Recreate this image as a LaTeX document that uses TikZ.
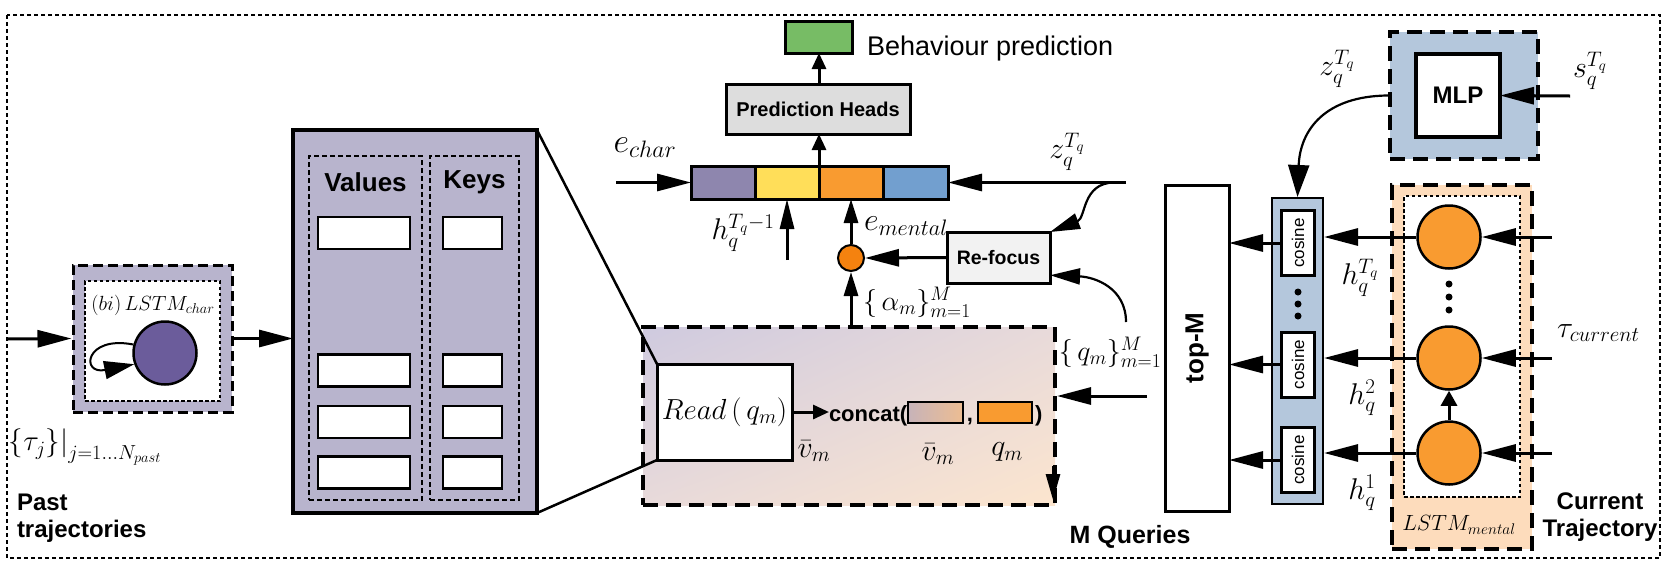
\RequirePackage{fix-cm}
\documentclass[tikz,border=0pt]{standalone}
\usepackage{fontspec}
\setsansfont{Liberation Sans}
\usetikzlibrary{arrows.meta,calc,shadings}
\newcommand{\fsz}[2]{\fontsize{#1}{#2}\selectfont}
\definecolor{lav}{HTML}{B8B4CD}
\definecolor{purp}{HTML}{6B5C9B}
\definecolor{barp}{HTML}{8E86AE}
\definecolor{bary}{HTML}{FFDE59}
\definecolor{baro}{HTML}{F99B30}
\definecolor{barb}{HTML}{729FCF}
\definecolor{lblue}{HTML}{B4C7DC}
\definecolor{peach}{HTML}{FDDCBC}
\definecolor{grn}{HTML}{77BC65}
\definecolor{ocol}{HTML}{F5820F}
\definecolor{qa}{HTML}{CFCADF}
\definecolor{qb}{HTML}{FCE5CE}
\definecolor{qmid}{HTML}{E8DADA}
\definecolor{vga}{HTML}{C7B3B9}
\definecolor{vgb}{HTML}{EDBD92}
\tikzset{
 arr/.style={line width=3pt,-{Triangle[length=34pt,width=17pt]}},
 arrm/.style={line width=3pt,-{Triangle[length=24pt,width=14pt]}},
 arrs/.style={line width=3pt,-{Triangle[length=16pt,width=14pt]}},
 arrc/.style={line width=2.2pt,-{Triangle[length=30pt,width=16pt]}},
 box/.style={draw=black, line width=3pt, inner sep=0pt, outer sep=0pt},
 cell/.style={draw=black, line width=2.5pt, fill=white, minimum height=32pt, inner sep=0pt},
 bigdash/.style={draw=black, line width=4pt, dash pattern=on 15pt off 8pt, inner sep=0pt},
 meddash/.style={draw=black, line width=3pt, dash pattern=on 10pt off 5pt, inner sep=0pt},
 thindash/.style={draw=black, line width=1.3pt, dash pattern=on 5pt off 3pt, inner sep=0pt},
 dotline/.style={draw=black, line width=1.6pt, dash pattern=on 3.5pt off 2.5pt, inner sep=0pt},
 lbl/.style={inner sep=0pt, outer sep=0pt},
 mth/.style={lbl, font=\fsz{30}{33}},
 bsf/.style={lbl, font=\sffamily\bfseries\fsz{#1}{#1}},
 orc/.style={circle, draw=black, line width=2.5pt, fill=baro, minimum size=63pt, inner sep=0pt},
 dotn/.style={circle, fill=black, minimum size=7pt, inner sep=0pt},
}
\begin{document}
\begin{tikzpicture}[x=1pt,y=-1pt]
\useasboundingbox (0,0) rectangle (1665,582);
\draw[line width=2pt, dash pattern=on 4pt off 3pt] (7,15) rectangle (1660,558);

% ---- LSTM char
\node[meddash, fill=lav, minimum width=159pt, minimum height=147pt] (lstmc) at (152.5,338.5) {};
\node[dotline, fill=white, minimum width=135pt, minimum height=120pt] (lstmci) at (152.5,341) {};
\node[lbl, font=\fsz{20.5}{24}] (lchar) at (153,305) {$(bi)\,LSTM_{char}$};
\node[circle, draw=black, line width=2.5pt, fill=purp, minimum size=63pt, inner sep=0pt] (cchar) at (165,353) {};
\draw[line width=2pt, -{Triangle[length=30pt,width=18pt]}] (cchar.165) .. controls (85,335) and (80,375) .. (cchar.200);
\coordinate (inp) at (7,339);
\draw[arr] (inp) -- (lstmc.west);
\node[lbl, anchor=west, font=\fsz{29}{32}] (ltau) at (9,447) {$\{\tau_j\}\big|_{j=1\ldots N_{past}}$};
\node[bsf=24, align=left, anchor=west, font=\sffamily\bfseries\fsz{24}{27}] (lpt) at (17,518) {Past\\trajectories};

% ---- Memory
\node[box, line width=3.5pt, fill=lav, minimum width=244pt, minimum height=383pt] (mem) at (415,321.5) {};
\draw[arr] (lstmc.east) -- (lstmc.east -| mem.west);
\node[thindash, minimum width=113pt, minimum height=344pt] (vcol) at (365.5,328) {};
\node[thindash, minimum width=89pt, minimum height=344pt] (kcol) at (474.5,328) {};
\node[bsf=26] (tval) at (365.5,182) {Values};
\node[bsf=26] (tkey) at (474.5,182) {Keys};
\foreach \i/\y in {1/233,2/370.5,3/422,4/472.5} {
  \node[cell, minimum width=92pt] (v\i) at (364,\y) {};
  \node[cell, minimum width=59pt] (k\i) at (472.5,\y) {};
}

% ---- Query box
\node[bigdash, upper left=qa, upper right=qmid, lower left=qmid, lower right=qb, minimum width=412pt, minimum height=178pt] (qbox) at (849,416) {};
\node[box, fill=white, minimum width=135pt, minimum height=96pt, font=\fsz{29}{32}] (read) at (724.5,412) {$Read\,(\,q_m)$};
\draw[line width=2.5pt] (mem.north east) -- (read.north west);
\draw[line width=2.5pt] (mem.south east) -- (read.south west);
\node[lbl, anchor=base west, font=\sffamily\bfseries\fsz{22}{26}] (tconcat) at (829,421) {concat(};
\draw[arrs] (read.east) -- (read.east -| tconcat.west);
\node[draw=black, line width=2.5pt, left color=vga, right color=vgb, minimum width=55pt, minimum height=21pt, inner sep=0pt] (r1) at (935.5,412.5) {};
\node[lbl, anchor=base, font=\sffamily\bfseries\fsz{22}{26}] (tcomma) at (970,421) {,};
\node[draw=black, line width=2.5pt, fill=baro, minimum width=54pt, minimum height=21pt, inner sep=0pt] (r2) at (1005,412.5) {};
\node[lbl, anchor=base west, font=\sffamily\bfseries\fsz{22}{26}] (tparen) at (1035,421) {)};
\node[mth] (lvb1) at (814,451) {$\bar{v}_m$};
\node[mth] (lvb2) at (938,454) {$\bar{v}_m$};
\node[mth] (lqm) at (1007,452) {$q_m$};
\coordinate (qd1) at (1053,466);
\coordinate (qd2) at (1053,500);
\draw[line width=3pt,-{Triangle[length=26pt,width=14pt]}] (qd1) -- (qd2);

% ---- small circle, re-focus
\node[circle, draw=black, line width=2pt, fill=ocol, minimum size=26pt, inner sep=0pt] (ocir) at (851,258) {};
\draw[arrm] (ocir.south |- qbox.north) -- (ocir.south);
\node[lbl, anchor=west, font=\fsz{28}{31}] (lalpha) at (863,302) {$\{\,\alpha_m\}_{m=1}^{M}$};
\node[box, fill=gray!10, minimum width=103pt, minimum height=51pt, font=\sffamily\bfseries\fsz{19.5}{22}] (rf) at (998.5,257.5) {Re-focus};
\draw[arr] (rf.west) -- (ocir.east);

% ---- bar
\node[box, fill=barp, minimum width=64pt, minimum height=33pt] (b1) at (723,182.5) {};
\node[box, fill=bary, minimum width=64pt, minimum height=33pt] (b2) at (787,182.5) {};
\node[box, fill=baro, minimum width=64pt, minimum height=33pt] (b3) at (851,182.5) {};
\node[box, fill=barb, minimum width=65pt, minimum height=33pt] (b4) at (915.5,182.5) {};
\draw[arrm] (ocir.north) -- (ocir.north |- b3.south);
\node[lbl, anchor=west, font=\fsz{32}{35}] (lemental) at (864,226) {$e_{mental}$};
\coordinate (hs) at (787,260);
\draw[line width=3pt,-{Triangle[length=30pt,width=14pt]}] (hs) -- (b2.south);
\node[mth] (lh) at (743,233) {$h_q^{T_q-1}$};
\coordinate (ecs) at (616,182.5);
\draw[arr] (ecs) -- (b1.west);
\node[lbl, font=\fsz{34}{37}] (lechar) at (645,148) {$e_{char}$};
\coordinate (zs) at (1126,182.5);
\draw[arr] (zs) -- (b4.east);
\node[mth] (lz1) at (1067,152) {$z_q^{T_q}$};
\coordinate (zb) at (1114,182.5);
\draw[arrc] (zb) .. controls (1082,183) and (1086,218) .. (rf.north east);
\coordinate (qc) at (1126,322);
\draw[arrc] (qc) .. controls (1126,288) and (1095,277) .. (rf.-19);

% ---- prediction heads
\node[box, fill=gray!27, minimum width=184pt, minimum height=50pt, font=\sffamily\bfseries\fsz{20}{24}] (ph) at (818,109) {Prediction Heads};
\draw[arrs] (b3.north west) -- (b3.north west |- ph.south);
\node[box, fill=grn, minimum width=67pt, minimum height=32pt] (gr) at (819,37) {};
\draw[arrs] (gr.south |- ph.north) -- (gr.south);
\node[lbl, anchor=west, font=\sffamily\fsz{27}{30}] (lbp) at (867,49) {Behaviour prediction};

% ---- top-M
\node[box, fill=white, minimum width=64pt, minimum height=326pt] (tm) at (1197,348) {};
\node[bsf=26, rotate=90] (ttm) at (tm.center) {top-M};
\coordinate (tq) at (1147,396);
\draw[arr] (tq) -- (tq -| qbox.east);
\node[lbl, font=\fsz{28}{31}] (lqq) at (1110,352) {$\{\,q_m\}_{m=1}^{M}$};
\node[bsf=25] (lmq) at (1130,537) {M Queries};

% ---- cosine column
\node[draw=black, line width=2pt, fill=lblue, minimum width=51pt, minimum height=306pt, inner sep=0pt] (cc) at (1297.5,351) {};
\foreach \n/\y in {1/243,2/364.5,3/460} {
  \node[box, fill=white, minimum width=33pt, minimum height=65pt] (cs\n) at (1298,\y) {};
  \node[lbl, rotate=90, font=\sffamily\fsz{17}{20}] (tcs\n) at (cs\n) {cosine};
  \draw[arr] (cs\n.west) -- (cs\n.west -| tm.east);
}
\foreach \n/\y in {1/292,2/304,3/316} { \node[dotn] (cd\n) at (1298,\y) {}; }

% ---- MLP
\node[bigdash, fill=lblue, minimum width=148pt, minimum height=127pt] (mlpo) at (1464,95.5) {};
\node[box, line width=3.5pt, fill=white, minimum width=84pt, minimum height=83pt, font=\sffamily\bfseries\fsz{24}{28}] (mlp) at (1458,95.5) {MLP};
\coordinate (ss) at (1570,96);
\draw[arr] (ss) -- (mlp.east);
\node[mth] (ls) at (1590,71) {$s_q^{T_q}$};
\draw[line width=2.2pt, -{Triangle[length=32pt,width=21pt]}] (mlpo.west) .. controls (1325,96) and (1300,130) .. (cc.north);
\node[mth] (lz2) at (1337,69) {$z_q^{T_q}$};

% ---- LSTM mental
\node[bigdash, fill=peach, minimum width=140pt, minimum height=364pt] (om) at (1462,367) {};
\node[dotline, fill=white, minimum width=116pt, minimum height=301pt] (omi) at (1462,346.5) {};
\node[orc] (c1) at (1449,237) {};
\node[orc] (c2) at (1449,358) {};
\node[orc] (c3) at (1449,453) {};
\foreach \n/\y in {4/284,5/297,6/310} { \node[dotn] (cd\n) at (1449,\y) {}; }
\draw[line width=3pt,-{Triangle[length=15pt,width=16pt]}] (c3.north) -- (c2.south);
\foreach \n in {1,2,3} {
  \draw[arr] (c\n.west) -- (c\n.west -| cc.east);
  \coordinate (in\n) at ($(c\n.center)+(103,0)$);
  \draw[arr] (in\n) -- (c\n.east);
}
\node[mth] (lh1) at (1360,278) {$h_q^{T_q}$};
\node[mth] (lh2) at (1362,398) {$h_q^{2}$};
\node[mth] (lh3) at (1362,493) {$h_q^{1}$};
\node[lbl, anchor=west, font=\fsz{30}{33}] (ltc) at (1557,333) {$\tau_{current}$};
\node[lbl, font=\fsz{22}{25}] (llm) at (1459,525) {$LSTM_{mental}$};
\node[lbl, align=center, font=\sffamily\bfseries\fsz{24}{27}] (lct) at (1600,517) {Current\\Trajectory};
\end{tikzpicture}
\end{document}
